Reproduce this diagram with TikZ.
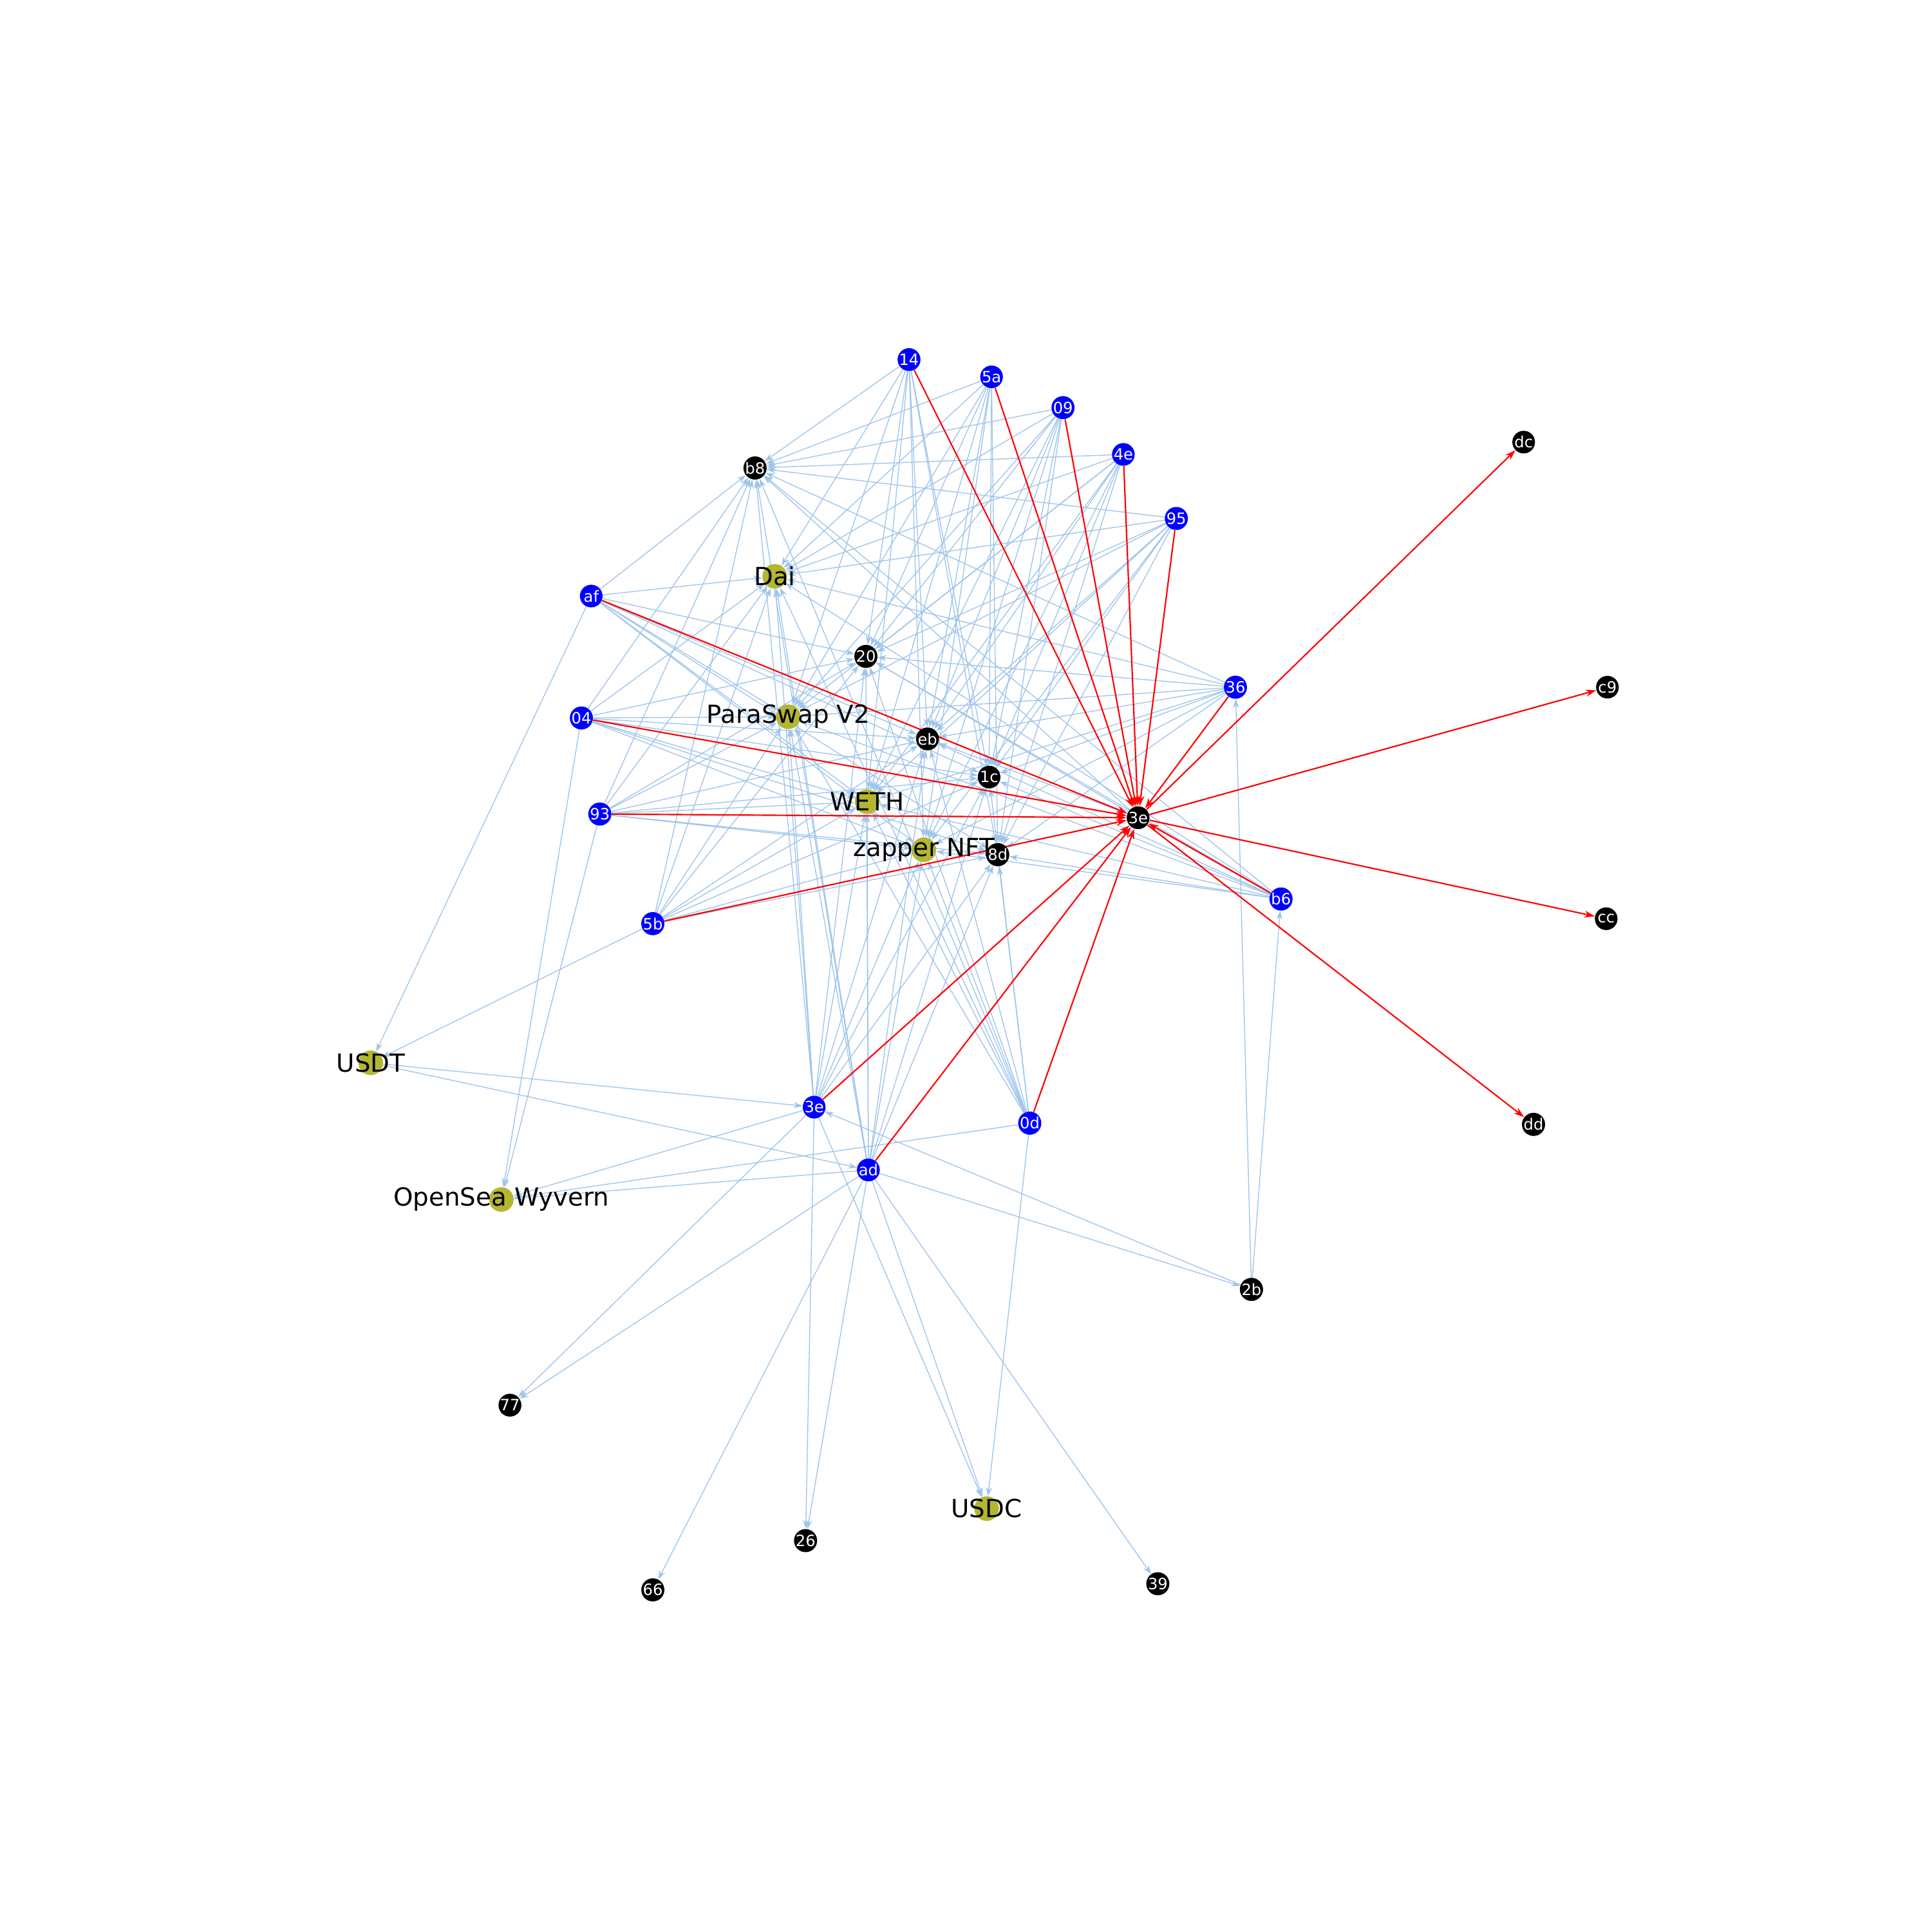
\documentclass[tikz,border=0pt]{standalone}
\usepackage{fontspec}
\setmainfont{DejaVu Sans}
\usetikzlibrary{arrows.meta}
\pgfdeclarelayer{bg}
\pgfsetlayers{bg,main}
\definecolor{eblue}{RGB}{158,196,234}
\definecolor{olive}{RGB}{180,182,50}
\tikzset{
 bn/.style={circle,fill=blue,inner sep=0pt,minimum size=0.46cm,text=white,font=\small},
 kn/.style={circle,fill=black,inner sep=0pt,minimum size=0.46cm,text=white,font=\small},
 on/.style={circle,fill=olive,inner sep=0pt,minimum size=0.5cm},
 be/.style={draw=eblue,line width=0.5pt,-{Stealth[length=5pt,width=3.5pt]}},
 re/.style={draw=red,line width=0.8pt,-{Stealth[length=6pt,width=4pt]}},
}
\begin{document}
\begin{tikzpicture}[x=0.025cm,y=-0.025cm]
\useasboundingbox (0,0) rectangle (1568,1568);
\node[bn] (n14) at (738,292) {14};
\node[bn] (n5a) at (805,306) {5a};
\node[bn] (n09) at (863,331) {09};
\node[bn] (n4e) at (912,369) {4e};
\node[bn] (n95) at (955,421) {95};
\node[kn] (b8) at (613,380) {b8};
\node[kn] (dc) at (1237,359) {dc};
\node[on,label={[font=\Large]center:Dai}] (Dai) at (629,468) {};
\node[bn] (af) at (480,484) {af};
\node[kn] (n20) at (703,533) {20};
\node[bn] (n36) at (1003,558) {36};
\node[kn] (c9) at (1305,558) {c9};
\node[bn] (n04) at (472,583) {04};
\node[on,label={[font=\Large]center:ParaSwap V2}] (PS) at (640,582) {};
\node[kn] (eb) at (753,600) {eb};
\node[kn] (n1c) at (803,631) {1c};
\node[bn] (n93) at (487,661) {93};
\node[on,label={[font=\Large]center:WETH}] (WETH) at (704,651) {};
\node[kn] (C) at (924,664) {3e};
\node[on,label={[font=\Large]center:zapper NFT}] (ZN) at (750,690) {};
\node[kn] (n8d) at (810,694) {8d};
\node[bn] (b6) at (1040,730) {b6};
\node[kn] (cc) at (1304,746) {cc};
\node[bn] (n5b) at (530,750) {5b};
\node[on,label={[font=\Large]center:USDT}] (USDT) at (301,863) {};
\node[bn] (L) at (661,899) {3e};
\node[bn] (n0d) at (836,912) {0d};
\node[kn] (dd) at (1245,913) {dd};
\node[bn] (ad) at (705,950) {ad};
\node[on,label={[font=\Large]center:OpenSea Wyvern}] (OS) at (407,974) {};
\node[kn] (n2b) at (1016,1047) {2b};
\node[kn] (n77) at (414,1141) {77};
\node[on,label={[font=\Large]center:USDC}] (USDC) at (801,1225) {};
\node[kn] (n26) at (654,1251) {26};
\node[kn] (n39) at (940,1286) {39};
\node[kn] (n66) at (530,1291) {66};
\begin{pgfonlayer}{bg}
\foreach \s in {n14,n5a,n09,n4e,n95,n36,b6,af,n04,n93,n5b,L,n0d,ad}{
  \foreach \t in {b8,Dai,n20,PS,eb,n1c,WETH,ZN,n8d}{
    \draw[be] (\s) -- (\t);
  }
}
\foreach \s/\t in {af/USDT,n5b/USDT,n04/OS,n93/OS,USDT/L,USDT/ad,ad/OS,n0d/OS,L/OS,ad/n2b,n2b/L,ad/n77,L/n77,ad/n66,L/n26,ad/n26,L/USDC,ad/USDC,n0d/USDC,ad/n39,n2b/n36,n2b/b6,C/n20,C/eb,C/b8}{
  \draw[be] (\s) -- (\t);
}
\foreach \s in {n14,n5a,n09,n4e,n95,n36,b6,L,ad,n0d,n5b,n93,n04,af}{
  \draw[re] (\s) -- (C);
}
\foreach \t in {dc,c9,cc,dd}{
  \draw[re] (C) -- (\t);
}
\end{pgfonlayer}
\end{tikzpicture}
\end{document}
